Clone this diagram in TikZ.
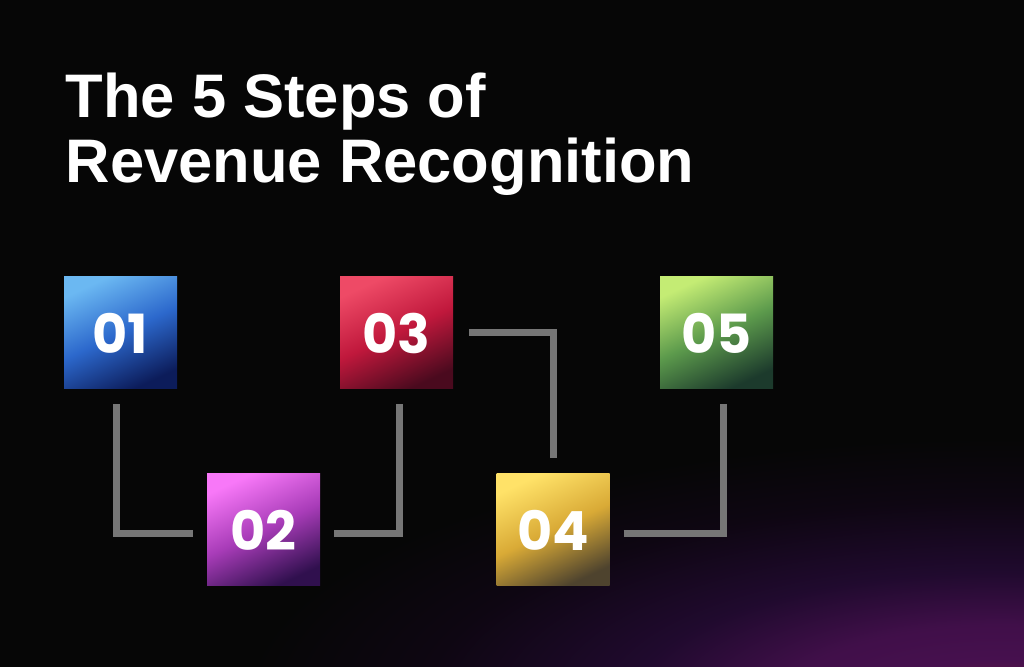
\documentclass[tikz,border=0pt]{standalone}
\usepackage{fontspec}
\usepackage{xcolor}
\usepackage{tikz}
\usetikzlibrary{positioning, calc}

\newfontfamily\titlefont{Liberation Sans}
\newfontfamily\digitfont{Poppins}

\definecolor{bgblack}{HTML}{060606}
\definecolor{linkgray}{HTML}{767676}
\definecolor{glowred}{HTML}{6A1638}
\definecolor{glowpurple}{HTML}{46104E}
\definecolor{glowmid}{HTML}{200A2E}
\definecolor{glowdark}{HTML}{0E0612}

% box colours: top, middle, bottom
\definecolor{blueT}{HTML}{6BB8F2}\definecolor{blueM}{HTML}{2C68CC}\definecolor{blueB}{HTML}{0C1C5A}
\definecolor{pinkT}{HTML}{F878F8}\definecolor{pinkM}{HTML}{A83CB8}\definecolor{pinkB}{HTML}{30104E}
\definecolor{redT}{HTML}{EE4A66}\definecolor{redM}{HTML}{C0183C}\definecolor{redB}{HTML}{4A0A1E}
\definecolor{yellowT}{HTML}{FFE268}\definecolor{yellowM}{HTML}{D9AA36}\definecolor{yellowB}{HTML}{4E432E}
\definecolor{greenT}{HTML}{C4EC74}\definecolor{greenM}{HTML}{5C9A4C}\definecolor{greenB}{HTML}{1C3A2C}

\pgfdeclareradialshading{glow}{\pgfpoint{0bp}{0bp}}{color(0bp)=(glowred); color(1.3bp)=(glowpurple); color(2.4bp)=(glowpurple!85!glowmid); color(4.1bp)=(glowmid); color(6.4bp)=(glowdark); color(8.4bp)=(bgblack); color(50bp)=(bgblack)}

\begin{document}
\begin{tikzpicture}[x=1pt, y=1pt,
        title/.style={anchor=base west, inner sep=0pt, text=white,
            font=\titlefont\bfseries\fontsize{61.5}{64.6}\selectfont},
        stepbox/.style={minimum width=113pt, minimum height=112pt, inner sep=0pt,
            text=white, font=\digitfont\bfseries\fontsize{54}{54}\selectfont,
            top color=#1T, bottom color=#1B, middle color=#1M, shading angle=25},
        link/.style={draw=linkgray, line width=7pt}]
        \useasboundingbox (0,0) rectangle (1024,666);

        % draw the background
        \begin{scope}
            \clip (0,0) rectangle (1024,666);
            \fill[bgblack] (0,0) rectangle (1024,666);
            \shade[shading=glow] (-1250,-814) rectangle (3250,746);
        \end{scope}

        % the title
        \node[title] (T1) at (65.5,548.3) {The 5 Steps of};
        \node[title] (T2) at ([yshift=-64.6pt]T1.base west) {Revenue Recognition};

        % the steps
        \node[stepbox=blue]   (s1) at (120.5,333) {01};
        \node[stepbox=pink]   (s2) at (263.5,136) {02};
        \node[stepbox=red]    (s3) at (396.5,333) {03};
        \node[stepbox=yellow] (s4) at (553,136)   {04};
        \node[stepbox=green]  (s5) at (716.5,333) {05};

        % the connectors
        \draw[link, shorten <=15pt, shorten >=14pt] ([xshift=-4.5pt]s1.south) |- ([yshift=-4pt]s2.west);
        \draw[link, shorten <=14pt, shorten >=15pt] ([yshift=-4pt]s2.east) -| ([xshift=2.5pt]s3.south);
        \draw[link, shorten <=16pt, shorten >=16pt] (s3.east) -| (s4.north);
        \draw[link, shorten <=14pt, shorten >=15pt] ([yshift=-4pt]s4.east) -| ([xshift=6.5pt]s5.south);
    \end{tikzpicture}
\end{document}
